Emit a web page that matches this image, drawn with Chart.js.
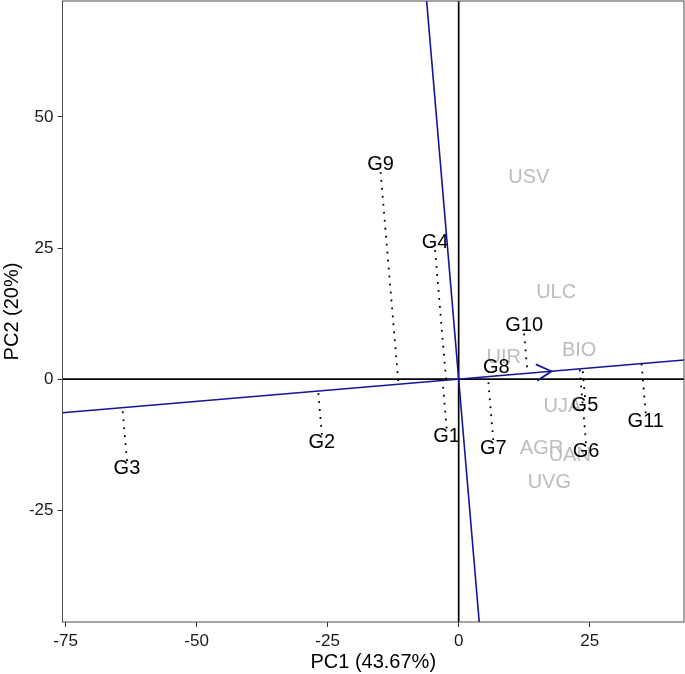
<!DOCTYPE html>
<html>
<head>
<meta charset="utf-8">
<script src="https://cdn.jsdelivr.net/npm/chart.js@4.4.1/dist/chart.umd.min.js"></script>
<style>
  html, body { margin: 0; padding: 0; background: #fff; }
  #wrap { width: 685px; height: 674px; }
</style>
</head>
<body>
<div id="wrap"><canvas id="biplot"></canvas></div>
<script>
// genotype scores (PC1, PC2)
const genoNames = ['G1', 'G2', 'G3', 'G4', 'G5', 'G6', 'G7', 'G8', 'G9', 'G10', 'G11'];
const genoX = [-2.3, -26.1, -63.3, -4.5, 24.1, 24.3, 6.6, 7.2, -14.9, 12.5, 35.7];
const genoY = [-9.4, -10.6, -15.6, 24.6, -3.4, -12.2, -11.6, 0.7, 39.5, 8.7, -6.5];

// environment scores
const envNames = ['USV', 'ULC', 'BIO', 'UIR', 'UJA', 'AGR', 'UAN', 'UVG'];
const envX = [13.4, 18.6, 23.0, 8.6, 19.8, 15.8, 21.2, 17.3];
const envY = [38.5, 16.5, 5.4, 4.1, -5.3, -13.3, -14.5, -19.7];

// average environment (tip of the arrow)
const meanEnv = [17.7, 1.5];

const xTicks = [-75, -50, -25, 0, 25];
const yTicks = [-25, 0, 25, 50];
const xRange = [-75.6, 43];
const yRange = [-46.3, 72.1];

const FONT = '"Liberation Sans", Arial, sans-serif';
const slope = meanEnv[1] / meanEnv[0];   // average-environment axis
const lineBlue = '#15159a';

function line(points, color, width, dash, order) {
  return {
    data: points,
    showLine: true,
    borderColor: color,
    borderWidth: width,
    borderDash: dash || [],
    pointRadius: 0,
    fill: false,
    order: order
  };
}

const datasets = [];
// zero lines
datasets.push(line([{x: xRange[0], y: 0}, {x: xRange[1], y: 0}], '#000', 1.7, null, 5));
datasets.push(line([{x: 0, y: yRange[0]}, {x: 0, y: yRange[1]}], '#000', 1.7, null, 5));
// ATC abscissa and ordinate
datasets.push(line([{x: xRange[0], y: slope * xRange[0]}, {x: xRange[1], y: slope * xRange[1]}], lineBlue, 1.6, null, 4));
datasets.push(line([{x: -slope * yRange[1], y: yRange[1]}, {x: -slope * yRange[0], y: yRange[0]}], lineBlue, 1.6, null, 4));
// projections of genotypes onto the ATC abscissa
genoNames.forEach((n, i) => {
  const t = (genoX[i] + slope * genoY[i]) / (1 + slope * slope);
  datasets.push(line([{x: genoX[i], y: genoY[i]}, {x: t, y: t * slope}], '#000', 1.8, [1.8, 6.2], 3));
});

const biplotExtras = {
  id: 'biplotExtras',
  afterDatasetsDraw(chart) {
    const {ctx, chartArea: a, scales: {x, y}} = chart;
    ctx.save();
    // arrow head at the average environment
    const ox = x.getPixelForValue(0), oy = y.getPixelForValue(0);
    const tx = x.getPixelForValue(meanEnv[0]), ty = y.getPixelForValue(meanEnv[1]);
    const ang = Math.atan2(ty - oy, tx - ox);
    ctx.strokeStyle = lineBlue;
    ctx.lineWidth = 1.8;
    ctx.beginPath();
    ctx.moveTo(tx - 17 * Math.cos(ang - 0.5), ty - 17 * Math.sin(ang - 0.5));
    ctx.lineTo(tx, ty);
    ctx.lineTo(tx - 17 * Math.cos(ang + 0.5), ty - 17 * Math.sin(ang + 0.5));
    ctx.stroke();

    ctx.font = '20px ' + FONT;
    ctx.textAlign = 'center';
    ctx.textBaseline = 'middle';
    // environments in grey
    ctx.fillStyle = '#bdbdbd';
    envNames.forEach((n, i) => {
      ctx.fillText(n, x.getPixelForValue(envX[i]), y.getPixelForValue(envY[i]));
    });
    // genotypes, nudged away from the ATC line
    ctx.fillStyle = '#000';
    genoNames.forEach((n, i) => {
      const off = genoY[i] - slope * genoX[i] >= 0 ? -8 : 8;
      ctx.fillText(n, x.getPixelForValue(genoX[i]), y.getPixelForValue(genoY[i]) + off);
    });

    // panel border
    ctx.strokeStyle = '#4d4d4d';
    ctx.lineWidth = 1;
    ctx.strokeRect(a.left, a.top, a.right - a.left, a.bottom - a.top);
    ctx.restore();
  }
};

const ctx = document.getElementById('biplot').getContext('2d');

new Chart(ctx, {
  type: 'scatter',
  data: { datasets: datasets },
  options: {
    responsive: true,
    maintainAspectRatio: false,
    animation: false,
    layout: { padding: { top: 1, right: 1, left: 0, bottom: 0 } },
    plugins: {
      legend: { display: false },
      tooltip: { enabled: false }
    },
    scales: {
      x: {
        type: 'linear',
        min: xRange[0],
        max: xRange[1],
        afterBuildTicks: s => { s.ticks = xTicks.map(v => ({ value: v })); },
        afterFit: s => { s.height = 52; s.paddingLeft = 0; s.paddingRight = 0; },
        grid: { drawOnChartArea: false, drawTicks: true, tickLength: 5, color: '#333' },
        border: { display: false },
        ticks: { font: { size: 17, family: FONT }, color: '#1a1a1a', padding: 4, maxRotation: 0, autoSkip: false },
        title: { display: true, text: 'PC1 (43.67%)', font: { size: 20, family: FONT }, color: '#000', padding: 0 }
      },
      y: {
        type: 'linear',
        min: yRange[0],
        max: yRange[1],
        afterBuildTicks: s => { s.ticks = yTicks.map(v => ({ value: v })); },
        afterFit: s => { s.width = 62.5; s.paddingTop = 0; s.paddingBottom = 0; },
        grid: { drawOnChartArea: false, drawTicks: true, tickLength: 5, color: '#333' },
        border: { display: false },
        ticks: { font: { size: 17, family: FONT }, color: '#1a1a1a', padding: 4, autoSkip: false },
        title: { display: true, text: 'PC2 (20%)', font: { size: 20, family: FONT }, color: '#000', padding: 0 }
      }
    }
  },
  plugins: [biplotExtras]
});
</script>
</body>
</html>
